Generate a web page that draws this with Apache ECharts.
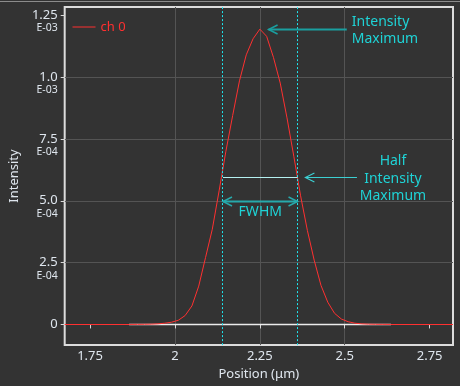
<!DOCTYPE html>
<html>
<head>
<meta charset="utf-8">
<script src="https://cdn.jsdelivr.net/npm/echarts@6/dist/echarts.min.js"></script>
<style>
html,body{margin:0;padding:0;background:#333333;}
#chart{width:460px;height:386px;}
</style>
</head>
<body>
<div id="chart"></div>
<script>
// ---- data ----
const positions = [1.865, 1.89, 1.91, 1.93, 1.95, 1.97, 1.99, 2.01, 2.03, 2.05, 2.07, 2.09, 2.11, 2.13, 2.15, 2.17, 2.19, 2.21, 2.23, 2.25,
  2.27, 2.29, 2.31, 2.33, 2.35, 2.37, 2.39, 2.41, 2.43, 2.45, 2.47, 2.49, 2.51, 2.53, 2.55, 2.57, 2.59, 2.61, 2.636];
const intensity = [0.0001e-3, 0.0003e-3, 0.0006e-3, 0.0012e-3, 0.0025e-3, 0.005e-3, 0.009e-3, 0.017e-3, 0.036e-3, 0.075e-3,
  0.155e-3, 0.27e-3, 0.385e-3, 0.54e-3, 0.70e-3, 0.845e-3, 0.985e-3, 1.09e-3, 1.155e-3, 1.194e-3,
  1.165e-3, 1.08e-3, 0.976e-3, 0.835e-3, 0.68e-3, 0.52e-3, 0.38e-3, 0.26e-3, 0.158e-3, 0.09e-3,
  0.045e-3, 0.022e-3, 0.011e-3, 0.005e-3, 0.0025e-3, 0.0012e-3, 0.0006e-3, 0.0003e-3, 0.0001e-3];
const seriesName = 'ch 0';
const xTicks = [1.75, 2, 2.25, 2.5, 2.75];
const yTicks = [0, 0.25e-3, 0.5e-3, 0.75e-3, 1.0e-3, 1.25e-3];
const yTickMantissa = ['0', '2.5', '5.0', '7.5', '1.0', '1.25'];
const yTickExponent = ['', 'E-04', 'E-04', 'E-04', 'E-03', 'E-03'];
const xRange = [1.6753, 2.8188];
const yRange = [-0.0835e-3, 1.2835e-3];
const peakPos = 2.25;
const peakValue = 1.194e-3;
const halfValue = 0.597e-3;
const fwhmLeft = 2.1415;
const fwhmRight = 2.361;
const fwhmArrowLevel = 0.498e-3;
const maxArrowX = [2.2757, 2.506];   // tip, tail
const halfArrowX = [2.3842, 2.536];  // tip, tail

const FONT = 'Noto Sans';
const AXIS_TXT = '#dfe6ee';
const CYAN_TXT = '#1fd3d6';

const chart = echarts.init(document.getElementById('chart'), null, {renderer: 'canvas'});

const option = {
  backgroundColor: '#333333',
  animation: false,
  textStyle: {fontFamily: FONT},
  grid: {left: 61, top: 7, right: 7, bottom: 40, show: true, borderColor: '#dcdcdc', borderWidth: 2, backgroundColor: 'transparent', containLabel: false},
  legend: {
    data: [{name: seriesName, icon: 'rect'}], left: 72.5, top: 20.5, padding: 0,
    itemWidth: 23, itemHeight: 1, itemGap: 5,
    textStyle: {color: '#ff3030', fontSize: 13, fontFamily: FONT}
  },
  xAxis: {
    type: 'value', min: xRange[0], max: xRange[1], minInterval: 0.25, maxInterval: 0.25,
    axisLine: {show: false},
    axisTick: {show: true, length: 4, customValues: xTicks, lineStyle: {color: '#d8d8d8'}},
    axisLabel: {customValues: xTicks, color: AXIS_TXT, fontSize: 13, margin: 5, fontFamily: FONT,
      formatter: v => String(+v.toFixed(2))},
    splitLine: {show: true, showMinLine: false, showMaxLine: false, lineStyle: {color: '#545454', width: 1}},
    name: 'Position (μm)', nameLocation: 'middle', nameGap: 17,
    nameTextStyle: {color: AXIS_TXT, fontSize: 13, fontFamily: FONT}
  },
  yAxis: {
    type: 'value', min: yRange[0], max: yRange[1], minInterval: 0.25e-3, maxInterval: 0.25e-3,
    axisLine: {show: false},
    axisTick: {show: true, length: 4, customValues: yTicks, lineStyle: {color: '#d8d8d8'}},
    axisLabel: {
      customValues: yTicks, margin: 7, color: AXIS_TXT, fontFamily: FONT, padding: [12, 0, 0, 0],
      formatter: function (v) {
        let idx = -1;
        for (let i = 0; i < yTicks.length; i++) if (Math.abs(yTicks[i] - v) < 1e-9) idx = i;
        if (idx < 0) return '';
        return '{m|' + yTickMantissa[idx] + '}\n{e|' + (yTickExponent[idx] || ' ') + '}';
      },
      rich: {
        m: {fontSize: 13, lineHeight: 14, color: AXIS_TXT, fontFamily: FONT, align: 'right'},
        e: {fontSize: 10.5, lineHeight: 12, color: AXIS_TXT, fontFamily: FONT, align: 'right'}
      }
    },
    splitLine: {show: true, showMinLine: false, showMaxLine: false, lineStyle: {color: '#545454', width: 1}},
    name: 'Intensity', nameLocation: 'middle', nameGap: 40,
    nameTextStyle: {color: AXIS_TXT, fontSize: 13, fontFamily: FONT}
  },
  series: [
    {
      name: 'baseline', type: 'line', z: 2, symbol: 'none', silent: true,
      data: [[positions[0], 0], [positions[positions.length - 1], 0]],
      lineStyle: {color: '#ececec', width: 1.5},
      markLine: {
        z: 1, silent: true, symbol: 'none', label: {show: false},
        lineStyle: {color: '#ff3030', type: 'solid', width: 1},
        data: [{yAxis: 0}]
      }
    },
    {
      name: seriesName, type: 'line', z: 3, symbol: 'none', showSymbol: false,
      data: positions.map((x, i) => [x, intensity[i]]),
      lineStyle: {color: '#ff3030', width: 1},
      itemStyle: {color: '#ff3030'},
      markLine: {
        silent: true, symbol: 'none', label: {show: false}, z: 5,
        data: [
          {xAxis: fwhmLeft, lineStyle: {color: '#1ee6f0', type: [2, 2], width: 1}},
          {xAxis: fwhmRight, lineStyle: {color: '#1ee6f0', type: [2, 2], width: 1}},
          [{coord: [fwhmLeft, halfValue], lineStyle: {color: '#b4f0f0', type: 'solid', width: 1}},
           {coord: [fwhmRight, halfValue]}]
        ]
      }
    }
  ]
};
chart.setOption(option);

// ---- annotations (arrows and texts), positioned through the chart's own scales ----
const P = (x, y) => chart.convertToPixel({gridIndex: 0}, [x, y]);
function chevron(tip, dir, color, w) {
  return {type: 'polyline', z: 50, silent: true,
    shape: {points: [[tip[0] - dir * 9, tip[1] - 4.5], tip, [tip[0] - dir * 9, tip[1] + 4.5]]},
    style: {stroke: color, lineWidth: w, fill: null}};
}
function hline(a, b, color, w) {
  return {type: 'line', z: 50, silent: true,
    shape: {x1: a[0], y1: a[1], x2: b[0], y2: b[1]}, style: {stroke: color, lineWidth: w}};
}
const maxTip = P(maxArrowX[0], peakValue), maxTail = P(maxArrowX[1], peakValue);
const halfTip = P(halfArrowX[0], halfValue), halfTail = P(halfArrowX[1], halfValue);
const fL = P(fwhmLeft, fwhmArrowLevel), fR = P(fwhmRight, fwhmArrowLevel);
const snap = p => [p[0], Math.round(p[1]) + 0.5];

const graphics = [
  {type: 'line', z: 60, silent: true, shape: {x1: 0, y1: 1.5, x2: 460, y2: 1.5}, style: {stroke: '#8c8c8c', lineWidth: 1}},
  hline(snap(maxTip), snap(maxTail), '#1a9fa0', 2),
  chevron(snap(maxTip), -1, '#1a9fa0', 1.5),
  hline(snap(halfTip), snap(halfTail), '#3ccfd2', 1),
  chevron(snap(halfTip), -1, '#3ccfd2', 1.2),
  hline(snap(fL), snap(fR), '#27a9ab', 2),
  chevron(snap(fL), -1, '#27a9ab', 1.5),
  chevron(snap(fR), 1, '#27a9ab', 1.5),
  {type: 'text', z: 60, silent: true, x: maxTail[0] + 5, y: maxTail[1] + 1,
    style: {text: 'Intensity\nMaximum', fill: CYAN_TXT, font: '14px "Noto Sans"', lineHeight: 17,
      align: 'left', verticalAlign: 'middle'}},
  {type: 'text', z: 60, silent: true, x: halfTail[0] + 36, y: halfTail[1] + 2,
    style: {text: 'Half\nIntensity\nMaximum', fill: CYAN_TXT, font: '14px "Noto Sans"', lineHeight: 17.5,
      align: 'center', verticalAlign: 'middle'}},
  {type: 'text', z: 60, silent: true, x: (fL[0] + fR[0]) / 2, y: fL[1] + 11,
    style: {text: 'FWHM', fill: CYAN_TXT, font: '14px "Noto Sans"', align: 'center', verticalAlign: 'middle'}}
];
chart.setOption({graphic: graphics});
</script>
</body>
</html>
